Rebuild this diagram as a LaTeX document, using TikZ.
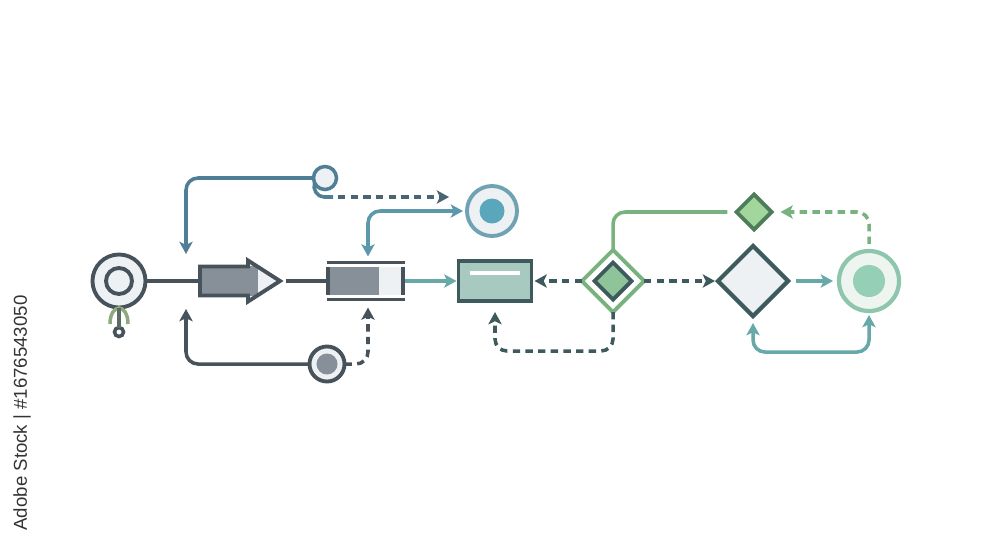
\documentclass[tikz,border=0pt]{standalone}
\usepackage{fontspec}
\setmainfont{Liberation Sans}
\usetikzlibrary{calc,shapes.geometric,arrows.meta}

\definecolor{slate}{HTML}{47525A}
\definecolor{deepteal}{HTML}{3E5A5C}
\definecolor{steel}{HTML}{4F7F96}
\definecolor{sky}{HTML}{5B98AB}
\definecolor{skyring}{HTML}{6FA3B3}
\definecolor{skydot}{HTML}{5AA6BA}
\definecolor{sea}{HTML}{67A8A8}
\definecolor{leaf}{HTML}{78B27E}
\definecolor{leafdark}{HTML}{4E7D5A}
\definecolor{leaffill}{HTML}{A3D69D}
\definecolor{gatefill}{HTML}{8FC39A}
\definecolor{mint}{HTML}{8EC5AD}
\definecolor{mintdot}{HTML}{94CFB6}
\definecolor{pale}{HTML}{EEF1F3}
\definecolor{palegreen}{HTML}{EEF5F0}
\definecolor{pebble}{HTML}{878F98}
\definecolor{sage}{HTML}{A8C9C0}
\definecolor{moss}{HTML}{8EA880}

\begin{document}
\begin{tikzpicture}[x=0.01cm,y=0.01cm,line width=1pt,
    every node/.style={inner sep=0pt,outer sep=0pt},
    ring/.style={circle,draw=slate,fill=pale,line width=1.1pt},
    gate/.style={diamond,aspect=1,line width=1.1pt},
    link/.style={-{Stealth[length=3.5pt,width=3.8pt,inset=0.9pt]}},
    duallink/.style={{Stealth[length=3.5pt,width=3.8pt,inset=0.9pt]}-{Stealth[length=3.5pt,width=3.8pt,inset=0.9pt]}},
    dashlink/.style={link,dash pattern=on 2.1pt off 1.5pt},
    corner/.style={rounded corners=0.12cm}]
  \useasboundingbox (0,0) rectangle (1000,-545);

  \node[rotate=90,text=black!80,font=\fontsize{5.3}{6}\selectfont] (credit) at (22,-413) {Adobe Stock | \#1676543050};

  \node[ring,minimum size=0.53cm] (start) at (119,-281) {};
  \node[ring,minimum size=0.26cm] (startin) at (start) {};
  \node[circle,draw=slate,fill=white,minimum size=0.09cm] (bulb) at (119,-332) {};
  \draw[moss] (110,-324) .. controls (110,-313) and (115,-308) .. (119,-308) .. controls (123,-308) and (128,-313) .. (128,-324);
  \draw[slate!70!moss] (119,-308) -- (bulb.north);

  \node[fill=pebble,minimum width=0.58cm,minimum height=0.29cm] (task) at (229,-281) {};
  \coordinate (tip) at ($ (task.east) + (22,0) $);
  \fill[pale] ($ (task.north east) + (-10,6) $) -- (tip) -- ($ (task.south east) + (-10,-6) $) -- cycle;
  \fill[pebble] ($ (task.north east) + (-10,0) $) rectangle (task.south east);
  \draw[slate,line width=1.1pt] (task.north west) -- ($ (task.north east) + (-10,0) $) -- ++(0,6) -- (tip)
    -- ($ (task.south east) + (-10,-6) $) -- ++(0,6) -- (task.south west) -- cycle;
  \draw[slate] (start) -- (task.west);

  \node[minimum width=0.78cm,minimum height=0.37cm] (store) at (366,-281) {};
  \fill[pale] ($ (store.north west) + (1,-5) $) rectangle ($ (store.south east) + (-2,5) $);
  \fill[pebble] ($ (store.north west) + (1,-5) $) rectangle ($ (store.south west) + (52,5) $);
  \begin{scope}[slate,line width=1.1pt]
    \draw (store.north west) -- (store.north east);
    \draw (store.south west) -- (store.south east);
    \draw ($ (store.north west) + (1,-5) $) -- ($ (store.south west) + (1,5) $);
    \draw ($ (store.north east) + (-2,-5) $) -- ($ (store.south east) + (-2,5) $);
  \end{scope}
  \draw[slate,shorten <=0.06cm] (tip) -- (store.west);

  \node[draw=deepteal,fill=sage,line width=1.1pt,minimum width=0.73cm,minimum height=0.40cm] (act) at (495,-281) {};
  \draw[white] ($ (act.north west) + (12,-12) $) -- ($ (act.north east) + (-12,-12) $);
  \draw[sea,link,shorten >=0.02cm] (store.east) -- (act.west);

  \node[circle,draw=steel,fill=pale,minimum size=0.23cm] (msg) at (325,-178) {};
  \coordinate (upin) at (186,-254);
  \draw[steel,link,corner] (msg.west) -| (upin);
  \draw[steel] (msg.205) to[out=250,in=180] (324,-197) -- (333,-197);
  \draw[slate!60!steel,dashlink] (338,-197) -- (449,-197);

  \node[circle,draw=skyring,fill=pale,line width=1.1pt,minimum size=0.50cm] (tgt) at (492,-211) {};
  \node[circle,fill=skydot,minimum size=0.25cm] (tgtin) at (tgt) {};
  \draw[sky,duallink,corner,shorten <=0.06cm,shorten >=0.04cm] ($ (store.north) + (2,0) $) |- (tgt.west);

  \node[ring,minimum size=0.35cm] (ev) at (327,-364) {};
  \node[circle,fill=pebble,minimum size=0.21cm] (evin) at (ev) {};
  \coordinate (dnin) at (186,-309);
  \draw[slate,link,corner] (ev.west) -| (dnin);
  \draw[slate,dashlink,corner,shorten >=0.08cm] (ev.east) -| ($ (store.south) + (2,0) $);

  \node[gate,draw=leaf,fill=white,minimum size=0.62cm] (gw) at (613,-281) {};
  \node[gate,draw=deepteal,fill=gatefill,minimum size=0.37cm] (gwin) at (gw) {};
  \node[gate,draw=deepteal,fill=pale,line width=1.2pt,minimum size=0.70cm] (xor) at (753,-281) {};
  \node[gate,draw=leafdark,fill=leaffill,minimum size=0.35cm] (lane) at (754,-212) {};
  \node[circle,draw=mint,fill=palegreen,line width=1.2pt,minimum size=0.60cm] (done) at (869,-281) {};
  \node[circle,fill=mintdot,minimum size=0.32cm] (donein) at (done) {};

  \draw[deepteal,dashlink,shorten >=0.03cm] (gw.west) -- (act.east);
  \draw[deepteal,dashlink,shorten >=0.03cm] (gw.east) -- (xor.west);
  \draw[deepteal,dashlink,corner,shorten >=0.11cm] (gw.south) -- ++(0,-39) -| (act.south);
  \draw[leaf,corner,shorten >=0.09cm] (gw.north) |- (lane.west);
  \draw[sea,link,shorten <=0.08cm,shorten >=0.06cm] (xor.east) -- (done.west);
  \draw[sea,duallink,corner,shorten <=0.07cm,shorten >=0.04cm] (xor.south) -- ++(0,-36) -| (done.south);
  \draw[leaf,dashlink,corner,shorten <=0.07cm,shorten >=0.09cm] (done.north) |- (lane.east);
\end{tikzpicture}
\end{document}
